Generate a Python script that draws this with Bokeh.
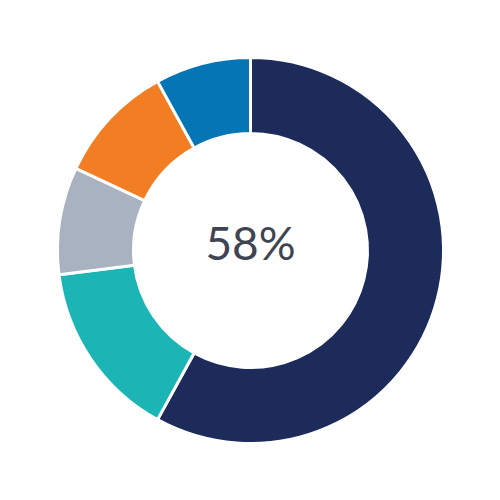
from math import pi

from bokeh.core.properties import value
from bokeh.embed import file_html
from bokeh.models import ColumnDataSource
from bokeh.plotting import figure
from bokeh.resources import INLINE

# donut shares, clockwise from 12 o'clock
categories = ["A", "B", "C", "D", "E"]
shares = [58, 15, 9, 10, 8]
colours = ["#1c2b5a", "#1bb5b6", "#a8b2c1", "#f27d22", "#0675b5"]
center_label = "58%"

total = sum(shares)
starts, ends = [], []
acc = 0
for s in shares:
    starts.append(pi / 2 - acc / total * 2 * pi)
    acc += s
    ends.append(pi / 2 - acc / total * 2 * pi)

source = ColumnDataSource(dict(cat=categories, share=shares, color=colours,
                               start=starts, end=ends))

# ranges in pixel units so the donut sits at the middle of the window
p = figure(width=484, height=484, x_range=(-250, 234), y_range=(-234, 250),
           output_backend="svg", toolbar_location=None, min_border=0)
p.axis.visible = False
p.grid.visible = False
p.outline_line_color = None

p.annular_wedge(x=0, y=0, inner_radius=117, outer_radius=193,
                start_angle="start", end_angle="end", direction="clock",
                fill_color="color", line_color="white", line_width=3,
                source=source)

p.text(x=[0], y=[8], text=[center_label], text_align="center",
       text_baseline="alphabetic", text_font=value("Lato"),
       text_font_size="46px", text_color="#3e4452")

open("out.html", "w").write(file_html(p, INLINE))
